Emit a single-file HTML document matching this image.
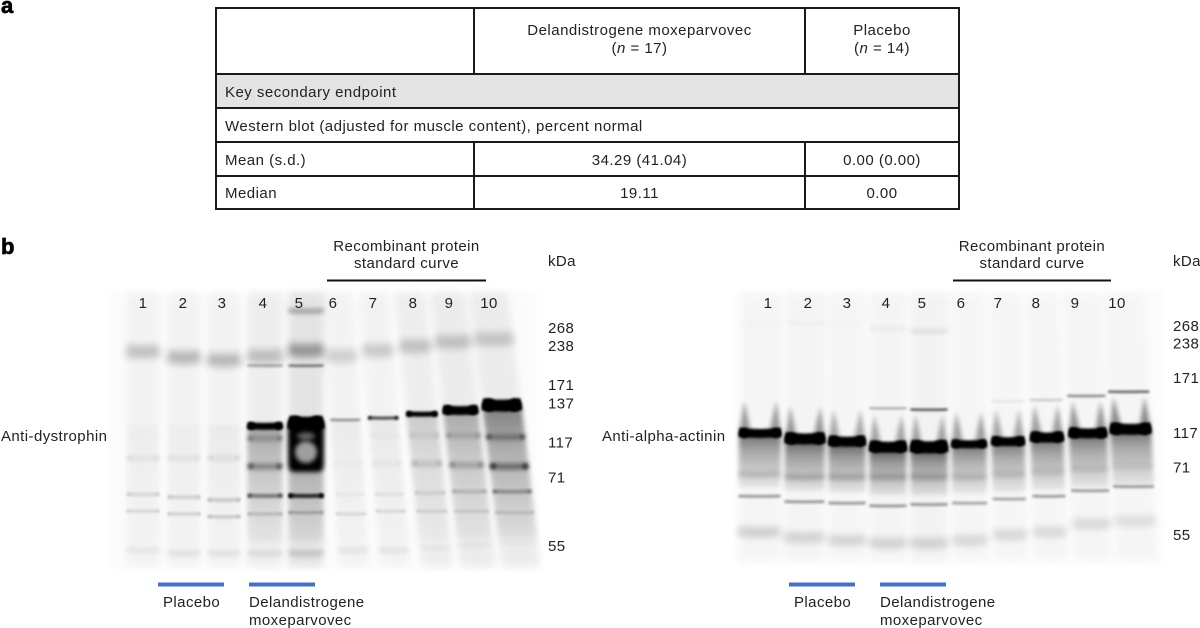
<!DOCTYPE html>
<html lang="en">
<head>
<meta charset="utf-8">
<title>Western blot results</title>
<style>
html,body{margin:0;padding:0;background:#fff;}
body{width:1200px;height:628px;overflow:hidden;position:relative;font-family:"Liberation Sans",sans-serif;color:#222;}
svg{position:absolute;left:0;top:0;}
text{font-family:"Liberation Sans",sans-serif;font-size:15px;fill:#222;letter-spacing:.42px;}
table{position:absolute;left:215px;top:7px;width:743px;height:201px;border-collapse:collapse;table-layout:fixed;font-size:15px;letter-spacing:.48px;}
td{border:2px solid #1a1a1a;padding:3px 8px 0;vertical-align:middle;line-height:18px;}
tr.head td{padding:0 8px 3px;}
td.c{text-align:center;}
tr.gray td{background:#e3e3e3;}
</style>
</head>
<body>
<table>
<colgroup><col style="width:258px"><col style="width:331px"><col style="width:154px"></colgroup>
<tr class="head" style="height:66px"><td></td><td class="c">Delandistrogene moxeparvovec<br>(<i>n</i> = 17)</td><td class="c">Placebo<br>(<i>n</i> = 14)</td></tr>
<tr class="gray" style="height:34px"><td colspan="3">Key secondary endpoint</td></tr>
<tr style="height:34px"><td colspan="3">Western blot (adjusted for muscle content), percent normal</td></tr>
<tr style="height:34px"><td>Mean (s.d.)</td><td class="c">34.29 (41.04)</td><td class="c">0.00 (0.00)</td></tr>
<tr style="height:33px"><td>Median</td><td class="c">19.11</td><td class="c">0.00</td></tr>
</table>

<svg id="fig" width="1200" height="628" viewBox="0 0 1200 628" xmlns="http://www.w3.org/2000/svg">
<defs>
<filter id="b1" filterUnits="userSpaceOnUse" x="0" y="0" width="1200" height="628"><feGaussianBlur stdDeviation="1.3"/></filter>
<filter id="b2" filterUnits="userSpaceOnUse" x="0" y="0" width="1200" height="628"><feGaussianBlur stdDeviation="2.4"/></filter>
<filter id="b3" filterUnits="userSpaceOnUse" x="0" y="0" width="1200" height="628"><feGaussianBlur stdDeviation="3.6"/></filter>
<filter id="b4" filterUnits="userSpaceOnUse" x="0" y="0" width="1200" height="628"><feGaussianBlur stdDeviation="4"/></filter>
<linearGradient id="fade" x1="0" y1="0" x2="0" y2="1"><stop offset="0" stop-color="#000" stop-opacity="1"/><stop offset=".35" stop-color="#000" stop-opacity=".55"/><stop offset="1" stop-color="#000" stop-opacity=".12"/></linearGradient>
</defs>
<g id="blots"></g>
<text x="1" y="13" style="font-size:22px;font-weight:bold;fill:#000;stroke:#000;stroke-width:.7;letter-spacing:0">a</text>
<text x="1" y="254" style="font-size:22px;font-weight:bold;fill:#000;stroke:#000;stroke-width:.7;letter-spacing:0">b</text>

<text x="1" y="441">Anti-dystrophin</text>
<text x="602" y="441">Anti-alpha-actinin</text>

<text x="406.5" y="251" text-anchor="middle">Recombinant protein</text>
<text x="406.5" y="268" text-anchor="middle">standard curve</text>
<line x1="327" x2="486" y1="280.5" y2="280.5" stroke="#111" stroke-width="2"/>
<text x="1032" y="251" text-anchor="middle">Recombinant protein</text>
<text x="1032" y="268" text-anchor="middle">standard curve</text>
<line x1="953" x2="1111" y1="280.5" y2="280.5" stroke="#111" stroke-width="2"/>

<rect x="158" y="582.5" width="66" height="4" fill="#4472c4"/>
<rect x="249" y="582.5" width="66" height="4" fill="#4472c4"/>
<rect x="789" y="582.5" width="66" height="4" fill="#4472c4"/>
<rect x="880" y="582.5" width="66" height="4" fill="#4472c4"/>
<text x="163" y="607">Placebo</text>
<text x="249" y="607">Delandistrogene</text>
<text x="249" y="625">moxeparvovec</text>
<text x="794" y="607">Placebo</text>
<text x="880" y="607">Delandistrogene</text>
<text x="880" y="625">moxeparvovec</text>
</svg>

<script>
// Lane labels shared by both membranes
const laneLabels = ['1','2','3','4','5','6','7','8','9','10'];

// Molecular-weight ladder labels
const kdaLeft = ['268','238','171','137','117','71','55'];
const kdaLeftMigration = [13.5,20,34,40.5,54.5,67,91.5];
const kdaRight = ['268','238','171','117','71','55'];
const kdaRightMigration = [13,19.5,32,52,64.5,89];

// Anti-dystrophin membrane: migration (% of blot height) and density (0-1), lanes 1-10
const dysHighMig = [22,24,25,23.5,21.5,23.5,21.5,20,18.5,17.5];
const dysHighDen = [.2,.24,.24,.2,.34,.14,.17,.19,.19,.17];
const dysUpperMig = [27,27,27,27,27,27,27,27,27,27];
const dysUpperDen = [0,0,0,.4,.65,0,0,0,0,0];
const dysTopMig = [7.5,7.5,7.5,7.5,7.5,7.5,7.5,7.5,7.5,7.5];
const dysTopDen = [0,0,0,0,.3,0,0,0,0,0];
const dysMainMig = [48,48,48,48.6,47.5,46.4,45.7,44.3,42.9,41.1];
const dysMainDen = [0,0,0,1,1,.5,.7,1,1,1];
const dysMainSize = [0,0,0,7,13,2,3,5,9,12];
const dysB1Mig = [53,53,53,53,52,52,52,52,52,52.5];
const dysB1Den = [0,0,0,.22,0,0,.02,.07,.15,.35];
const dysB2Mig = [60,60,60,63,62.5,62,62,62,62.5,63];
const dysB2Den = [.05,.05,.06,.35,0,.02,.03,.12,.2,.45];
const dysB3Mig = [73,74,75,73.5,73.5,73,73,72.5,72,72];
const dysB3Den = [.1,.12,.15,.42,.8,.03,.05,.08,.14,.28];
const dysB4Mig = [79,80,81,80,79.5,80,79,79,79,79.5];
const dysB4Den = [.12,.15,.18,.16,.22,.1,.1,.1,.1,.13];
const dysB5Mig = [93,94,94,94,94,93,93,92,91,90];
const dysB5Den = [.05,.07,.07,.08,.14,.06,.06,.03,.03,.03];
const dysSmear = [.02,.02,.03,.3,.42,.03,.04,.14,.28,.46];
const dysBack = [.03,.03,.03,.05,.09,.03,.03,.05,.06,.06];
// Saturated region in the overloaded lane: start, end and density, then the lighter pockets inside it
const dysBlockStart = [0,0,0,0,46,0,0,0,0,0];
const dysBlockEnd = [0,0,0,0,65,0,0,0,0,0];
const dysBlockDen = [0,0,0,0,1,0,0,0,0,0];
const dysPocketMig = [57.9,52.2];
const dysPocketLane = [4,4];
const dysPocketDen = [.62,.42];
const dysPocketSize = [11,3.5];

// Anti-alpha-actinin membrane
const actMainMig = [52,54,55,57,57,56,55,53.5,52,50.5];
const actMainDen = [1,1,1,1,1,1,1,1,1,1];
const actMainSize = [9,11,10,11,12,8,9,10,10,11];
const actUpperMig = [42,42,42,43,43.5,41,40.5,40,38.5,37];
const actUpperDen = [0,0,0,.35,.8,0,.08,.22,.55,.75];
const actHighMig = [12,12,12,14,15,12,12,12,12,12];
const actHighDen = [.015,.025,.015,.04,.08,0,0,0,0,0];
const actB1Mig = [75,77,77.5,78.5,78,77.5,76,75,73,71.5];
const actB1Den = [.42,.42,.42,.42,.42,.36,.36,.4,.4,.4];
const actB2Mig = [67,68,68,68,68,68,67,66,65,64];
const actB2Den = [.12,.18,.18,.18,.18,.12,.1,.08,.08,.05];
const actB3Mig = [88,90,91,92,92,91,89,88,85,84];
const actB3Den = [.17,.15,.15,.15,.15,.13,.13,.12,.12,.1];
const actSmear = [.55,.62,.62,.65,.65,.52,.52,.55,.55,.55];
const actBack = [.02,.025,.02,.025,.03,.02,.02,.02,.02,.02];
const actWisp = [.38,.38,.32,.34,.34,.36,.32,.36,.4,.44];

// Lane layout on each membrane
const dysLaneCentre = [143,184,224,265,306,345,383,422,461,503];
const actLaneCentre = [760,805,847,888,929,969,1008,1047,1088,1131];
const dysLaneWidth = [33,33,33,35,35,30,30,31,35,39];
const actLaneWidth = [42,40,37,37,37,35,33,33,38,41];
const dysLaneTilt = [0,0,0,0,0,.06,.08,.1,.11,.12];
const actLaneTilt = [-.01,-.01,0,0,0,.01,.02,.03,.04,.05];

const root = document.getElementById('blots');
const SVG = 'http://www.w3.org/2000/svg';
function add(parent, tag, attrs){
  const e = document.createElementNS(SVG, tag);
  for (const k in attrs) e.setAttribute(k, attrs[k]);
  parent.appendChild(e);
  return e;
}

function drawBlot(b){
  const g = add(root, 'g', {});
  
  
  const y = m => b.top + m * b.height / 100;
  const x = (i, py) => b.centres[i] + b.tilt[i] * (py - b.refY);

  // membrane background
  const bg = add(g, 'rect', {x:b.left, y:b.top, width:b.width, height:b.height, fill:'#000', opacity:.012, filter:'url(#b4)'});
  
  

  laneLabels.forEach((label, i) => {
    const w = b.widths[i];
    const lg = add(g, 'g', {});
    
    
    const top = b.top + 2, bot = b.top + b.height - 3, mainY = y(b.mainMig[i]);
    // lane haze
    const haze = add(lg, 'path', {d:`M${x(i,top)-w/2} ${top}L${x(i,top)+w/2} ${top}L${x(i,bot)+w/2} ${bot}L${x(i,bot)-w/2} ${bot}Z`, fill:'#000', opacity:b.back[i], filter:'url(#b3)'});
    
    
    // smear below the main band
    const sBot = mainY + (bot - mainY) * b.smearReach;
    const smear = add(lg, 'path', {d:`M${x(i,mainY)-w/2} ${mainY}L${x(i,mainY)+w/2} ${mainY}L${x(i,sBot)+w/2} ${sBot}L${x(i,sBot)-w/2} ${sBot}Z`, fill:'url(#fade)', opacity:b.smear[i], filter:'url(#b2)'});
    
    
    // edge wisps above the main band
    if (b.wisp) {
      [-1, 1].forEach(s => {
        const wy = mainY, ty = mainY - 32;
        const xe = x(i, wy) + s * (w / 2 - 1), xt = x(i, ty) + s * (w / 2 - 5);
        const wp = add(lg, 'path', {d:`M${xe-s*11} ${wy}L${xe+s*1} ${wy}L${xt} ${ty}Z`, fill:'#000', opacity:b.wisp[i], filter:'url(#b2)'});
        
        
      });
    }
    // saturated block
    if (b.blockDen && b.blockDen[i] > 0) {
      const y0 = y(b.blockStart[i]), y1 = y(b.blockEnd[i]);
      const block = add(lg, 'rect', {x:x(i,y0)-w/2, y:y0, width:w, height:y1-y0, rx:6, fill:'#000', opacity:b.blockDen[i], filter:'url(#b2)'});
      
      
    }
    // discrete bands
    b.bands.forEach(band => {
      const den = band.den[i];
      if (den <= 0) return;
      const py = y(band.mig[i]), size = band.size ? band.size[i] : band.thick;
      const cx = x(i, py), hw = w / 2;
      const blur = band.blur || 'url(#b1)';
      const p = add(lg, 'path', {d:`M${cx-hw} ${py-size*.08}Q${cx} ${py+size*.18} ${cx+hw} ${py-size*.08}`, fill:'none', stroke:'#000', 'stroke-width':size, opacity:den, filter:blur});
      
      
      if (size >= 2.5 && !band.noEdge) {
        [-1, 1].forEach(s => {
          const r = size * .56;
          const d = add(lg, 'circle', {cx:cx + s * (hw - r), cy:py, r:r, fill:'#000', opacity:Math.min(1, den * (.45 + den)), filter:'url(#b1)'});
          
          
        });
      }
    });
    // lane number
    const t = add(g, 'text', {x:b.labelX[i], y:b.top + 18, 'text-anchor':'middle'});
    t.textContent = label;
    
    
  });

  // lighter pockets inside saturated regions
  (b.pocketMig || []).forEach((m, k) => {
    const py = y(m), i = b.pocketLane[k];
    const rx = Math.max(b.pocketSize[k], 9);
    const pk = add(g, 'ellipse', {cx:x(i, py), cy:py, rx:rx, ry:b.pocketSize[k], fill:'#fff', opacity:b.pocketDen[k], filter:'url(#b2)'});
    
    
  });

  // ladder
  b.kda.forEach((k, i) => {
    const t = add(g, 'text', {x:b.kdaX, y:y(b.kdaMig[i]) + 5});
    t.textContent = k;
    
    
  });
  const u = add(g, 'text', {x:b.kdaX, y:266});
  u.textContent = 'kDa';
  
  
}

drawBlot({
  name:'anti-dystrophin-blot', left:108, top:290, width:430, height:280, refY:415, widths:dysLaneWidth,
  centres:dysLaneCentre, tilt:dysLaneTilt, mainMig:dysMainMig, back:dysBack, smear:dysSmear, smearReach:.82,
  blockStart:dysBlockStart, blockEnd:dysBlockEnd, blockDen:dysBlockDen,
  pocketMig:dysPocketMig, pocketLane:dysPocketLane, pocketDen:dysPocketDen, pocketSize:dysPocketSize,
  labelX:[143,183,222,263,299,333,373,413,449,489], kda:kdaLeft, kdaMig:kdaLeftMigration, kdaX:548,
  bands:[
    {name:'band-top', mig:dysTopMig, den:dysTopDen, thick:5, blur:'url(#b2)', noEdge:true},
    {name:'band-high', mig:dysHighMig, den:dysHighDen, thick:13, blur:'url(#b3)', noEdge:true},
    {name:'band-upper', mig:dysUpperMig, den:dysUpperDen, thick:2},
    {name:'band-lower-1', mig:dysB1Mig, den:dysB1Den, thick:5, blur:'url(#b2)'},
    {name:'band-lower-2', mig:dysB2Mig, den:dysB2Den, thick:6, blur:'url(#b2)'},
    {name:'band-lower-3', mig:dysB3Mig, den:dysB3Den, thick:4},
    {name:'band-lower-4', mig:dysB4Mig, den:dysB4Den, thick:3},
    {name:'band-lower-5', mig:dysB5Mig, den:dysB5Den, thick:6, blur:'url(#b2)', noEdge:true},
    {name:'band-main', mig:dysMainMig, den:dysMainDen, size:dysMainSize}
  ]
});

drawBlot({
  name:'anti-alpha-actinin-blot', left:735, top:290, width:430, height:275, refY:438, widths:actLaneWidth,
  centres:actLaneCentre, tilt:actLaneTilt, mainMig:actMainMig, back:actBack, smear:actSmear, smearReach:.42, wisp:actWisp,
  labelX:[768,808,847,886,922,961,998,1036,1075,1117], kda:kdaRight, kdaMig:kdaRightMigration, kdaX:1173,
  bands:[
    {name:'band-high', mig:actHighMig, den:actHighDen, thick:5, blur:'url(#b2)', noEdge:true},
    {name:'band-upper', mig:actUpperMig, den:actUpperDen, thick:2, noEdge:true},
    {name:'band-lower-1', mig:actB2Mig, den:actB2Den, thick:6, blur:'url(#b2)', noEdge:true},
    {name:'band-lower-2', mig:actB1Mig, den:actB1Den, thick:2.6, noEdge:true},
    {name:'band-lower-3', mig:actB3Mig, den:actB3Den, thick:10, blur:'url(#b3)', noEdge:true},
    {name:'band-main', mig:actMainMig, den:actMainDen, size:actMainSize}
  ]
});
</script>
</body>
</html>
